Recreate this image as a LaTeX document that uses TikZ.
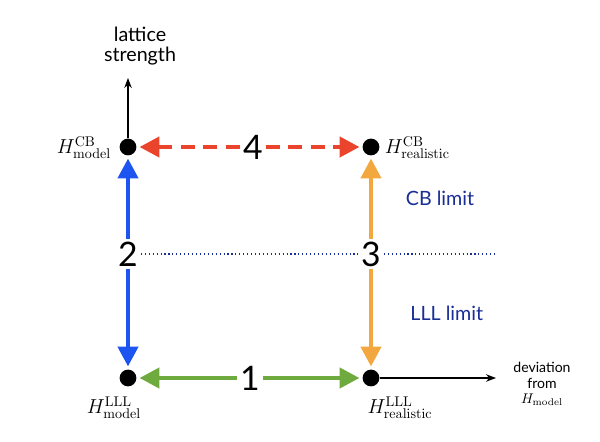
\documentclass[tikz,border=0pt]{standalone}
\usepackage[no-math]{fontspec}
\setmainfont{Lato}
\usetikzlibrary{arrows.meta}
\definecolor{cblue}{RGB}{30,85,240}
\definecolor{corange}{RGB}{242,168,62}
\definecolor{cgreen}{RGB}{110,170,62}
\definecolor{cred}{RGB}{235,68,45}
\definecolor{ctext}{RGB}{25,45,150}
\newcommand{\mrm}[1]{\mathrm{#1}}
\begin{document}
\begin{tikzpicture}[
  dot/.style={circle,fill=black,inner sep=0pt,minimum size=0.42cm},
  num/.style={font=\fontsize{24}{26}\selectfont,inner sep=2pt},
  thick arrow/.style={line width=3.2pt,-{Triangle[length=0.5cm,width=0.5cm]}},
  lbl/.style={font=\fontsize{14}{16}\selectfont},
  ax/.style={line width=1pt,-{Stealth[length=0.25cm]}}]
\useasboundingbox (0,0) rectangle (15,11.05);
\node[dot] (a) at (3.2,1.6) {};
\node[dot] (b) at (9.275,1.6) {};
\node[dot] (c) at (3.2,7.375) {};
\node[dot] (d) at (9.275,7.375) {};
\coordinate (top) at (3.2,9.1);
\coordinate (right) at (12.4,1.6);
\node[lbl,align=center] at (3.5,9.9) {lattice\\[-2pt]strength};
\node[align=center,font=\fontsize{10}{11}\selectfont] at (13.55,1.45) {deviation\\from\\$H_{\mrm{model}}$};
\draw[ax] (c) -- (top);
\draw[ax] (b) -- (right);
\node[num,fill=white] (n4) at (6.32,7.375) {4};
\node[num,fill=white] (n2) at (3.2,4.7) {2};
\node[num,fill=white] (n3) at (9.275,4.7) {3};
\node[num,fill=white] (n1) at (6.25,1.6) {1};
\draw[dotted,thick,ctext] (n2) -- (n3);
\draw[dotted,thick,ctext] (n3) -- (12.4,4.7);
\draw[thick arrow,cblue,shorten >=2pt] (n2) -- (c);
\draw[thick arrow,cblue,shorten >=2pt] (n2) -- (a);
\draw[thick arrow,corange,shorten >=2pt] (n3) -- (d);
\draw[thick arrow,corange,shorten >=2pt] (n3) -- (b);
\draw[thick arrow,cgreen,shorten >=2pt] (n1) -- (a);
\draw[thick arrow,cgreen,shorten >=2pt] (n1) -- (b);
\draw[thick arrow,cred,dash pattern=on 10pt off 6pt,shorten >=2pt] (n4) -- (c);
\draw[thick arrow,cred,dash pattern=on 10pt off 6pt,shorten >=2pt] (n4) -- (d);
\node[anchor=east,font=\Large] at (2.9,7.35) {$H^{\mrm{CB}}_{\mrm{model}}$};
\node[anchor=west,font=\Large] at (9.5,7.35) {$H^{\mrm{CB}}_{\mrm{realistic}}$};
\node[font=\Large] at (2.85,0.85) {$H^{\mrm{LLL}}_{\mrm{model}}$};
\node[font=\Large] at (10.0,0.85) {$H^{\mrm{LLL}}_{\mrm{realistic}}$};
\node[lbl,text=ctext] at (11.0,6.1) {CB limit};
\node[lbl,text=ctext] at (11.17,3.22) {LLL limit};
\end{tikzpicture}
\end{document}
